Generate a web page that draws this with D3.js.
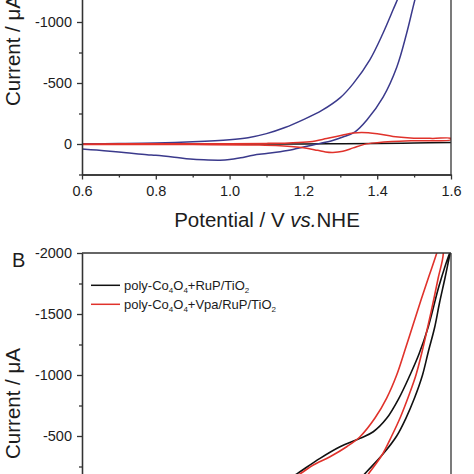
<!DOCTYPE html>
<html><head><meta charset="utf-8">
<script src="https://cdn.jsdelivr.net/npm/d3@7"></script>
<style>
body{margin:0;background:#fff}
svg{display:block}
text{font-family:"Liberation Sans",Arial,Helvetica,sans-serif;fill:#1c1c1c}
</style>
</head><body>
<svg id="chart" width="474" height="474"></svg>
<script>
// ---------- data ----------
const potentialDomain = [0.6, 1.6];
const potentialMajorTicks = [0.6, 0.8, 1.0, 1.2, 1.4, 1.6];
const potentialMinorTicks = [0.7, 0.9, 1.1, 1.3, 1.5];

const currentDomainA = [250, -2000];
const currentMajorTicksA = [-1000, -500, 0];
const currentMinorTicksA = [-1250, -750, -250, 250];

const currentDomainB = [-2000, 250];
const currentMajorTicksB = [-2000, -1500, -1000, -500];
const currentMinorTicksB = [-1750, -1250, -750, -250];

// Panel A: [potential V, current µA]
const blackA = [[0.6,0],[0.8,0],[1.0,0],[1.2,-1],[1.3,-2],[1.4,-4],[1.5,-8],[1.6,-12]];
const redA = [[0.6,-1],[0.8,-2],[1.0,-3],[1.1,-5],[1.16,-9],[1.218,-19],[1.263,-45],[1.307,-74],[1.335,-90],[1.358,-95],[1.4,-84],[1.443,-62],[1.49,-50],[1.55,-46],[1.6,-46],
              [1.6,-35],[1.5,-27],[1.44,-20],[1.4,-11],[1.365,3],[1.335,32],[1.307,60],[1.28,70],[1.26,66],[1.238,52],[1.2,30],[1.137,14],[1.08,8],[0.9,5],[0.6,4]];
const blueA = [[0.6,-2],[0.7,-4],[0.8,-8],[0.9,-18],[1.0,-35],[1.05,-52],[1.1,-85],[1.15,-135],[1.2,-200],[1.25,-275],[1.3,-380],[1.335,-495],[1.38,-690],[1.416,-910],[1.443,-1100],[1.465,-1260],[1.49,-1500],[1.52,-1850],[1.56,-2150],
               [1.54,-1600],[1.502,-1180],[1.48,-910],[1.453,-630],[1.416,-385],[1.372,-197],[1.34,-100],[1.307,-57],[1.275,-25],[1.245,-5],[1.2,25],[1.172,45],[1.137,63],[1.1,78],[1.064,92],[1.03,113],[1.0,128],[0.974,133],[0.93,130],[0.893,123],[0.85,108],[0.8,93],[0.776,88],[0.72,72],[0.684,62],[0.64,50],[0.6,41]];

// Panel B
const blackB = [[1.1653,-156],[1.1908,-207],[1.245,-317],[1.2992,-412],[1.3534,-481],[1.3894,-535],[1.4257,-645],[1.4591,-811],[1.4889,-1000],[1.5133,-1172],[1.5385,-1396],[1.5675,-1729],[1.5959,-1996],[1.6,-2025],
                [1.5973,-1992],[1.5837,-1795],[1.5688,-1590],[1.5553,-1385],[1.539,-1197],[1.5228,-1000],[1.5011,-811],[1.478,-647],[1.4528,-500],[1.4157,-352],[1.3715,-207],[1.3561,-156]];
const redB = [[1.1745,-156],[1.1997,-207],[1.2268,-262],[1.2721,-330],[1.3173,-412],[1.3534,-494],[1.394,-647],[1.4257,-811],[1.4528,-1000],[1.4753,-1205],[1.497,-1410],[1.5187,-1615],[1.5404,-1811],[1.5612,-1998],[1.5729,-2123],
              [1.5791,-1998],[1.5653,-1795],[1.5512,-1590],[1.5363,-1385],[1.5214,-1188],[1.5051,-1000],[1.4862,-836],[1.4631,-656],[1.4393,-500],[1.413,-344],[1.3805,-207],[1.3683,-156]];

const legendLabels = [["poly-Co","4","O","4","+RuP/TiO","2"],["poly-Co","4","O","4","+Vpa/RuP/TiO","2"]];
const legendColors = ["#111111","#e0322b"];
const axisTitleX = ["Potential / V ", "vs.", "NHE"];
const axisTitleY = "Current / μA";

// ---------- drawing ----------
const svg = d3.select("#chart");
const x = d3.scaleLinear().domain(potentialDomain).range([82, 451]);
const yA = d3.scaleLinear().domain(currentDomainA).range([174.5, -100]);
const yB = d3.scaleLinear().domain(currentDomainB).range([253, 527.5]);
const axisColor = "#333";
const fmt = d => String(d);

const defs = svg.append("defs");
defs.append("clipPath").attr("id","clipA").append("rect").attr("x",82).attr("y",-100).attr("width",369).attr("height",274.5);
defs.append("clipPath").attr("id","clipB").append("rect").attr("x",82).attr("y",253).attr("width",369).attr("height",274.5);

function styleAxis(g){
  g.selectAll("path,line").attr("stroke",axisColor).attr("stroke-width",1.3);
  g.selectAll("text").attr("font-size","14.5px").attr("fill","#1c1c1c").attr("font-family","Liberation Sans, Arial, sans-serif");
}

const line = (yS) => d3.line().x(d=>x(d[0])).y(d=>yS(d[1])).curve(d3.curveCatmullRom.alpha(0.5));

// Panel A
const gA = svg.append("g");
const curvesA = gA.append("g").attr("clip-path","url(#clipA)");
curvesA.append("path").datum(blackA).attr("d",line(yA)).attr("fill","none").attr("stroke","#111").attr("stroke-width",1.5);
curvesA.append("path").datum(blueA).attr("d",line(yA)).attr("fill","none").attr("stroke","#3b3a8c").attr("stroke-width",1.5);
curvesA.append("path").datum(redA).attr("d",line(yA)).attr("fill","none").attr("stroke","#e0322b").attr("stroke-width",1.5);

gA.append("g").attr("transform","translate(0,174.5)")
  .call(d3.axisBottom(x).tickValues(potentialMajorTicks).tickSize(5).tickSizeOuter(0).tickPadding(6).tickFormat(d3.format(".1f"))).call(styleAxis);
gA.append("g").attr("transform","translate(0,174.5)")
  .call(d3.axisBottom(x).tickValues(potentialMinorTicks).tickSize(3).tickSizeOuter(0).tickFormat("")).call(styleAxis);
gA.append("g").attr("transform","translate(82,0)")
  .call(d3.axisLeft(yA).tickValues(currentMajorTicksA).tickSize(5).tickSizeOuter(0).tickPadding(5).tickFormat(fmt)).call(styleAxis);
gA.append("g").attr("transform","translate(82,0)")
  .call(d3.axisLeft(yA).tickValues(currentMinorTicksA).tickSize(3).tickSizeOuter(0).tickFormat("")).call(styleAxis);
gA.append("line").attr("x1",x(1.6)).attr("x2",x(1.6)).attr("y1",yA(-2000)).attr("y2",yA(250)).attr("stroke",axisColor).attr("stroke-width",1.3);

const xt = gA.append("text").attr("x",267).attr("y",226.5).attr("text-anchor","middle").attr("font-size","20.5px");
xt.append("tspan").text(axisTitleX[0]);
xt.append("tspan").attr("font-style","italic").text(axisTitleX[1]);
xt.append("tspan").text(axisTitleX[2]);

gA.append("text").attr("transform","translate(19.5,50.5) rotate(-90)").attr("text-anchor","middle").attr("font-size","20.5px").text(axisTitleY);

// Panel B
const gB = svg.append("g");
const curvesB = gB.append("g").attr("clip-path","url(#clipB)");
curvesB.append("path").datum(blackB).attr("d",line(yB)).attr("fill","none").attr("stroke","#111").attr("stroke-width",1.6);
curvesB.append("path").datum(redB).attr("d",line(yB)).attr("fill","none").attr("stroke","#e0322b").attr("stroke-width",1.6);

gB.append("g").attr("transform","translate(82,0)")
  .call(d3.axisLeft(yB).tickValues(currentMajorTicksB).tickSize(5).tickSizeOuter(0).tickPadding(5).tickFormat(fmt)).call(styleAxis);
gB.append("g").attr("transform","translate(82,0)")
  .call(d3.axisLeft(yB).tickValues(currentMinorTicksB).tickSize(3).tickSizeOuter(0).tickFormat("")).call(styleAxis);
gB.append("line").attr("x1",x(0.6)).attr("x2",x(1.6)).attr("y1",yB(-2000)).attr("y2",yB(-2000)).attr("stroke",axisColor).attr("stroke-width",1.3);
gB.append("line").attr("x1",x(1.6)).attr("x2",x(1.6)).attr("y1",yB(-2000)).attr("y2",yB(250)).attr("stroke",axisColor).attr("stroke-width",1.3);

gB.append("text").attr("x",12).attr("y",267).attr("font-size","20px").text("B");
gB.append("text").attr("transform","translate(19.5,403.5) rotate(-90)").attr("text-anchor","middle").attr("font-size","20.5px").text(axisTitleY);

// legend
legendLabels.forEach((parts,i)=>{
  const yy = 285.3 + i*19;
  gB.append("line").attr("x1",91).attr("x2",120).attr("y1",yy).attr("y2",yy).attr("stroke",legendColors[i]).attr("stroke-width",1.5);
  const t = gB.append("text").attr("x",124).attr("y",yy+4.2).attr("font-size","13px");
  parts.forEach((p,j)=>{
    const ts = t.append("tspan").text(p);
    if(j%2===1) ts.attr("font-size","8px").attr("dy","3.5");
    else if(j>0) ts.attr("dy","-3.5");
  });
});
</script>
</body></html>
